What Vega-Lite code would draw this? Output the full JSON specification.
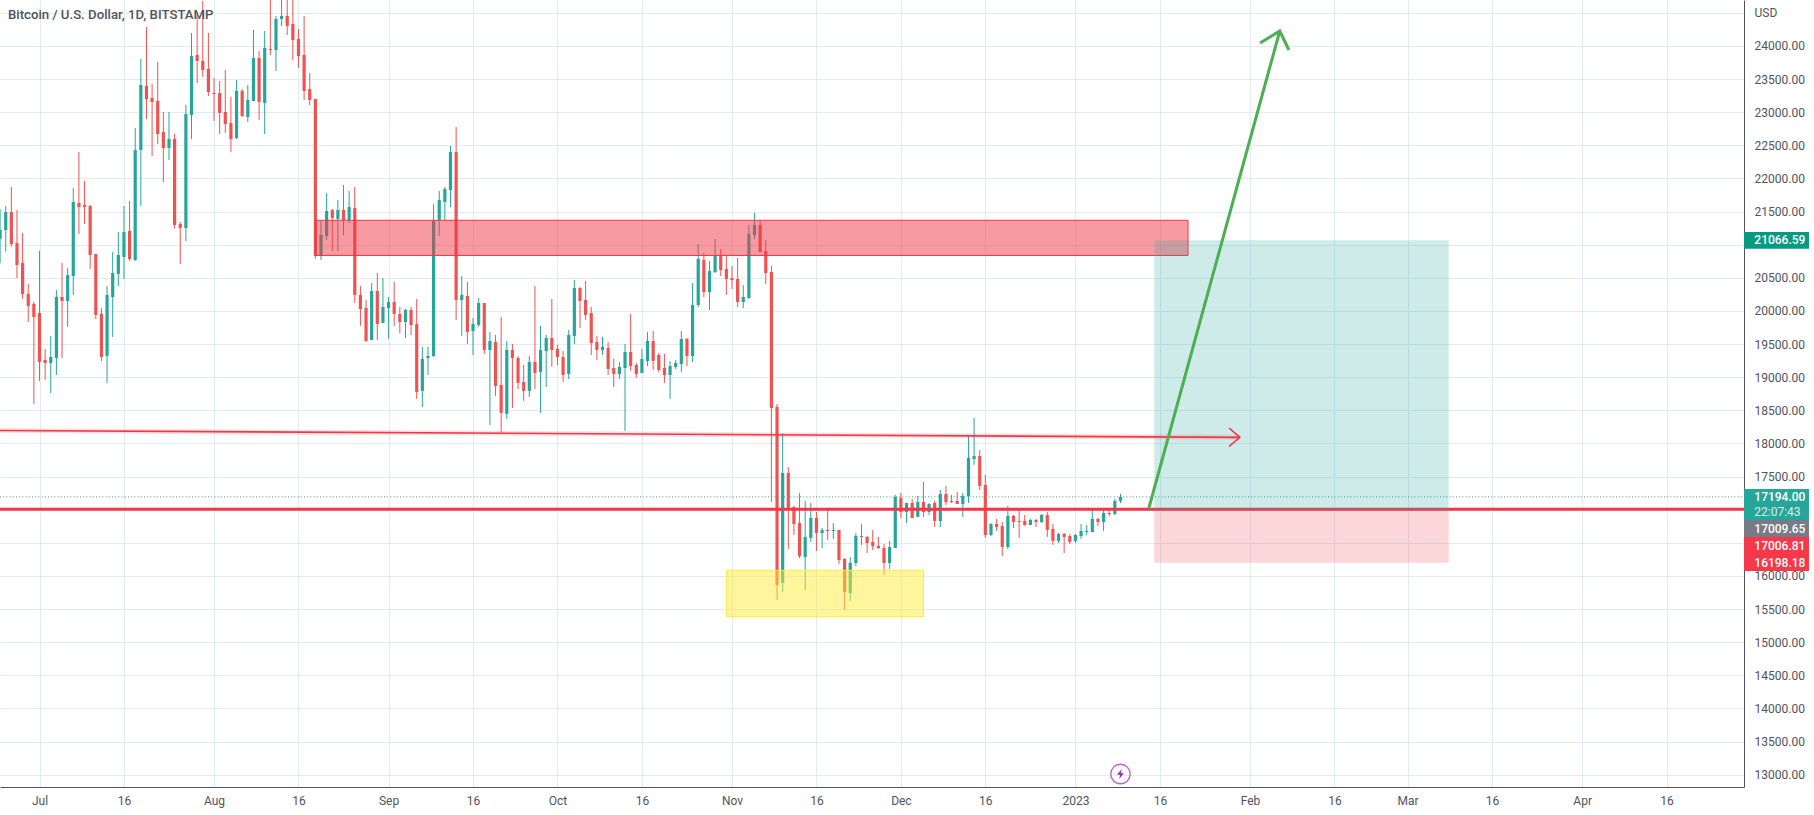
{
  "$schema": "https://vega.github.io/schema/vega-lite/v6.json",
  "width": 1744,
  "height": 787,
  "autosize": {"type": "none"},
  "padding": {"left": 0, "top": 0, "right": 70, "bottom": 28},
  "background": "#FFFFFF",
  "config": {"font": "Roboto", "view": {"stroke": null}},
  "title": {
    "text": "Bitcoin / U.S. Dollar, 1D, BITSTAMP",
    "anchor": "start",
    "frame": "group",
    "dx": 8,
    "offset": -40,
    "fontSize": 13.2,
    "fontWeight": 500,
    "color": "#50535E"
  },
  "datasets": {
    "candles": [
      {"d":"2022-06-24","o":21092,"h":21535,"l":20720,"c":21223},
      {"d":"2022-06-25","o":21223,"h":21585,"l":20896,"c":21494},
      {"d":"2022-06-26","o":21494,"h":21872,"l":20971,"c":21011},
      {"d":"2022-06-27","o":21026,"h":21524,"l":20498,"c":20694},
      {"d":"2022-06-28","o":20725,"h":21177,"l":20181,"c":20257},
      {"d":"2022-06-29","o":20257,"h":20408,"l":19834,"c":20076},
      {"d":"2022-06-30","o":20106,"h":20136,"l":18596,"c":19910},
      {"d":"2022-07-01","o":19970,"h":20906,"l":18944,"c":19230},
      {"d":"2022-07-02","o":19261,"h":19427,"l":18959,"c":19215},
      {"d":"2022-07-03","o":19215,"h":19623,"l":18762,"c":19306},
      {"d":"2022-07-04","o":19291,"h":20317,"l":19034,"c":20211},
      {"d":"2022-07-05","o":20211,"h":20725,"l":19291,"c":20151},
      {"d":"2022-07-06","o":20151,"h":20649,"l":19759,"c":20543},
      {"d":"2022-07-07","o":20528,"h":21857,"l":20242,"c":21645},
      {"d":"2022-07-08","o":21630,"h":22400,"l":21162,"c":21570},
      {"d":"2022-07-09","o":21600,"h":21962,"l":21313,"c":21570},
      {"d":"2022-07-10","o":21585,"h":21600,"l":20634,"c":20845},
      {"d":"2022-07-11","o":20860,"h":20860,"l":19879,"c":19940},
      {"d":"2022-07-12","o":19955,"h":20045,"l":19245,"c":19306},
      {"d":"2022-07-13","o":19321,"h":20377,"l":18913,"c":20242},
      {"d":"2022-07-14","o":20211,"h":20891,"l":19608,"c":20574},
      {"d":"2022-07-15","o":20559,"h":21192,"l":20377,"c":20845},
      {"d":"2022-07-16","o":20815,"h":21585,"l":20483,"c":21192},
      {"d":"2022-07-17","o":21207,"h":21660,"l":20755,"c":20785},
      {"d":"2022-07-18","o":20770,"h":22762,"l":20755,"c":22430},
      {"d":"2022-07-19","o":22430,"h":23804,"l":21585,"c":23411},
      {"d":"2022-07-20","o":23396,"h":24286,"l":22898,"c":23200},
      {"d":"2022-07-21","o":23215,"h":23426,"l":22339,"c":23155},
      {"d":"2022-07-22","o":23170,"h":23758,"l":22521,"c":22672},
      {"d":"2022-07-23","o":22702,"h":23004,"l":21947,"c":22460},
      {"d":"2022-07-24","o":22460,"h":23004,"l":22279,"c":22596},
      {"d":"2022-07-25","o":22596,"h":22672,"l":21243,"c":21298},
      {"d":"2022-07-26","o":21313,"h":21343,"l":20709,"c":21253},
      {"d":"2022-07-27","o":21253,"h":23109,"l":21057,"c":22973},
      {"d":"2022-07-28","o":22958,"h":24196,"l":22596,"c":23849},
      {"d":"2022-07-29","o":23864,"h":24468,"l":23441,"c":23773},
      {"d":"2022-07-30","o":23773,"h":24679,"l":23532,"c":23637},
      {"d":"2022-07-31","o":23653,"h":24196,"l":23245,"c":23305},
      {"d":"2022-08-01","o":23290,"h":23517,"l":22868,"c":23275},
      {"d":"2022-08-02","o":23290,"h":23471,"l":22672,"c":22988},
      {"d":"2022-08-03","o":23004,"h":23637,"l":22687,"c":22822},
      {"d":"2022-08-04","o":22838,"h":23230,"l":22400,"c":22596},
      {"d":"2022-08-05","o":22611,"h":23487,"l":22596,"c":23321},
      {"d":"2022-08-06","o":23321,"h":23351,"l":22928,"c":22943},
      {"d":"2022-08-07","o":22928,"h":23411,"l":22853,"c":23185},
      {"d":"2022-08-08","o":23170,"h":24241,"l":23170,"c":23819},
      {"d":"2022-08-09","o":23819,"h":23924,"l":22883,"c":23155},
      {"d":"2022-08-10","o":23139,"h":24226,"l":22672,"c":23970},
      {"d":"2022-08-11","o":23954,"h":24900,"l":23864,"c":23939},
      {"d":"2022-08-12","o":23939,"h":24453,"l":23622,"c":24407},
      {"d":"2022-08-13","o":24407,"h":24900,"l":24302,"c":24453},
      {"d":"2022-08-14","o":24453,"h":24950,"l":24166,"c":24302},
      {"d":"2022-08-15","o":24332,"h":24900,"l":23788,"c":24090},
      {"d":"2022-08-16","o":24105,"h":24256,"l":23668,"c":23849},
      {"d":"2022-08-17","o":23864,"h":24453,"l":23185,"c":23321},
      {"d":"2022-08-18","o":23351,"h":23592,"l":23109,"c":23185},
      {"d":"2022-08-19","o":23200,"h":23200,"l":20785,"c":20830},
      {"d":"2022-08-20","o":20830,"h":21358,"l":20770,"c":21147},
      {"d":"2022-08-21","o":21132,"h":21781,"l":21072,"c":21509},
      {"d":"2022-08-22","o":21524,"h":21540,"l":20906,"c":21404},
      {"d":"2022-08-23","o":21389,"h":21675,"l":20906,"c":21524},
      {"d":"2022-08-24","o":21525,"h":21902,"l":21147,"c":21374},
      {"d":"2022-08-25","o":21374,"h":21811,"l":21328,"c":21570},
      {"d":"2022-08-26","o":21555,"h":21872,"l":20121,"c":20242},
      {"d":"2022-08-27","o":20242,"h":20378,"l":19774,"c":20030},
      {"d":"2022-08-28","o":20046,"h":20166,"l":19532,"c":19547},
      {"d":"2022-08-29","o":19563,"h":20423,"l":19563,"c":20302},
      {"d":"2022-08-30","o":20302,"h":20574,"l":19563,"c":19804},
      {"d":"2022-08-31","o":19819,"h":20498,"l":19819,"c":20061},
      {"d":"2022-09-01","o":20046,"h":20212,"l":19578,"c":20136},
      {"d":"2022-09-02","o":20136,"h":20438,"l":19774,"c":19955},
      {"d":"2022-09-03","o":19955,"h":20061,"l":19668,"c":19834},
      {"d":"2022-09-04","o":19834,"h":20030,"l":19593,"c":20015},
      {"d":"2022-09-05","o":20015,"h":20061,"l":19638,"c":19789},
      {"d":"2022-09-06","o":19804,"h":20181,"l":18672,"c":18778},
      {"d":"2022-09-07","o":18793,"h":19457,"l":18551,"c":19276},
      {"d":"2022-09-08","o":19291,"h":19457,"l":19034,"c":19321},
      {"d":"2022-09-09","o":19321,"h":21615,"l":19306,"c":21359},
      {"d":"2022-09-10","o":21374,"h":21811,"l":21132,"c":21676},
      {"d":"2022-09-11","o":21645,"h":21872,"l":21374,"c":21842},
      {"d":"2022-09-12","o":21826,"h":22491,"l":21570,"c":22400},
      {"d":"2022-09-13","o":22400,"h":22777,"l":19864,"c":20166},
      {"d":"2022-09-14","o":20166,"h":20528,"l":19623,"c":20242},
      {"d":"2022-09-15","o":20227,"h":20438,"l":19502,"c":19683},
      {"d":"2022-09-16","o":19698,"h":19895,"l":19336,"c":19804},
      {"d":"2022-09-17","o":19789,"h":20196,"l":19759,"c":20121},
      {"d":"2022-09-18","o":20121,"h":20121,"l":19351,"c":19412},
      {"d":"2022-09-19","o":19412,"h":19683,"l":18280,"c":19547},
      {"d":"2022-09-20","o":19532,"h":19638,"l":18717,"c":18868},
      {"d":"2022-09-21","o":18883,"h":19910,"l":18169,"c":18461},
      {"d":"2022-09-22","o":18446,"h":19547,"l":18370,"c":19412},
      {"d":"2022-09-23","o":19412,"h":19502,"l":18536,"c":19291},
      {"d":"2022-09-24","o":19291,"h":19321,"l":18823,"c":18914},
      {"d":"2022-09-25","o":18929,"h":19185,"l":18642,"c":18793},
      {"d":"2022-09-26","o":18793,"h":19321,"l":18702,"c":19231},
      {"d":"2022-09-27","o":19231,"h":20378,"l":18823,"c":19064},
      {"d":"2022-09-28","o":19080,"h":19774,"l":18461,"c":19412},
      {"d":"2022-09-29","o":19396,"h":19638,"l":18853,"c":19593},
      {"d":"2022-09-30","o":19593,"h":20181,"l":19155,"c":19412},
      {"d":"2022-10-01","o":19427,"h":19487,"l":19185,"c":19306},
      {"d":"2022-10-02","o":19306,"h":19396,"l":18929,"c":19034},
      {"d":"2022-10-03","o":19049,"h":19713,"l":18974,"c":19638},
      {"d":"2022-10-04","o":19623,"h":20468,"l":19502,"c":20347},
      {"d":"2022-10-05","o":20347,"h":20362,"l":19744,"c":20151},
      {"d":"2022-10-06","o":20166,"h":20453,"l":19864,"c":19940},
      {"d":"2022-10-07","o":19970,"h":20061,"l":19336,"c":19517},
      {"d":"2022-10-08","o":19532,"h":19623,"l":19261,"c":19412},
      {"d":"2022-10-09","o":19412,"h":19608,"l":19336,"c":19457},
      {"d":"2022-10-10","o":19442,"h":19532,"l":19034,"c":19125},
      {"d":"2022-10-11","o":19140,"h":19276,"l":18853,"c":19049},
      {"d":"2022-10-12","o":19049,"h":19231,"l":18974,"c":19155},
      {"d":"2022-10-13","o":19140,"h":19502,"l":18189,"c":19381},
      {"d":"2022-10-14","o":19381,"h":19955,"l":19095,"c":19170},
      {"d":"2022-10-15","o":19185,"h":19215,"l":18989,"c":19049},
      {"d":"2022-10-16","o":19064,"h":19427,"l":19064,"c":19276},
      {"d":"2022-10-17","o":19246,"h":19683,"l":19170,"c":19547},
      {"d":"2022-10-18","o":19547,"h":19698,"l":19110,"c":19246},
      {"d":"2022-10-19","o":19336,"h":19366,"l":19080,"c":19110},
      {"d":"2022-10-20","o":19140,"h":19351,"l":18914,"c":19034},
      {"d":"2022-10-21","o":19034,"h":19246,"l":18672,"c":19170},
      {"d":"2022-10-22","o":19155,"h":19261,"l":19125,"c":19215},
      {"d":"2022-10-23","o":19200,"h":19698,"l":19079,"c":19577},
      {"d":"2022-10-24","o":19577,"h":19592,"l":19170,"c":19320},
      {"d":"2022-10-25","o":19320,"h":20422,"l":19230,"c":20090},
      {"d":"2022-10-26","o":20090,"h":21011,"l":20060,"c":20785},
      {"d":"2022-10-27","o":20769,"h":20875,"l":20211,"c":20286},
      {"d":"2022-10-28","o":20286,"h":20754,"l":20015,"c":20603},
      {"d":"2022-10-29","o":20588,"h":21086,"l":20573,"c":20830},
      {"d":"2022-10-30","o":20830,"h":20935,"l":20528,"c":20618},
      {"d":"2022-10-31","o":20634,"h":20830,"l":20241,"c":20483},
      {"d":"2022-11-01","o":20498,"h":20679,"l":20332,"c":20468},
      {"d":"2022-11-02","o":20483,"h":20800,"l":20060,"c":20136},
      {"d":"2022-11-03","o":20136,"h":20392,"l":20045,"c":20211},
      {"d":"2022-11-04","o":20196,"h":21298,"l":20181,"c":21162},
      {"d":"2022-11-05","o":21147,"h":21479,"l":21086,"c":21298},
      {"d":"2022-11-06","o":21298,"h":21358,"l":20890,"c":20890},
      {"d":"2022-11-07","o":20905,"h":21071,"l":20407,"c":20573},
      {"d":"2022-11-08","o":20588,"h":20679,"l":17117,"c":18536},
      {"d":"2022-11-09","o":18551,"h":18596,"l":15638,"c":15864},
      {"d":"2022-11-10","o":15894,"h":18158,"l":15758,"c":17555},
      {"d":"2022-11-11","o":17555,"h":17645,"l":16408,"c":16996},
      {"d":"2022-11-12","o":17040,"h":17057,"l":16619,"c":16785},
      {"d":"2022-11-13","o":16800,"h":17253,"l":16272,"c":16302},
      {"d":"2022-11-14","o":16287,"h":17132,"l":15789,"c":16589},
      {"d":"2022-11-15","o":16574,"h":17102,"l":16513,"c":16876},
      {"d":"2022-11-16","o":16876,"h":16966,"l":16378,"c":16649},
      {"d":"2022-11-17","o":16649,"h":16725,"l":16423,"c":16695},
      {"d":"2022-11-18","o":16695,"h":16996,"l":16544,"c":16679},
      {"d":"2022-11-19","o":16679,"h":16800,"l":16559,"c":16695},
      {"d":"2022-11-20","o":16695,"h":16695,"l":16181,"c":16242},
      {"d":"2022-11-21","o":16257,"h":16272,"l":15487,"c":15759},
      {"d":"2022-11-22","o":15744,"h":16287,"l":15623,"c":16196},
      {"d":"2022-11-23","o":16196,"h":16649,"l":16151,"c":16604},
      {"d":"2022-11-24","o":16604,"h":16785,"l":16468,"c":16589},
      {"d":"2022-11-25","o":16589,"h":16604,"l":16347,"c":16498},
      {"d":"2022-11-26","o":16513,"h":16695,"l":16393,"c":16453},
      {"d":"2022-11-27","o":16453,"h":16589,"l":16408,"c":16423},
      {"d":"2022-11-28","o":16423,"h":16483,"l":16015,"c":16196},
      {"d":"2022-11-29","o":16196,"h":16529,"l":16106,"c":16438},
      {"d":"2022-11-30","o":16423,"h":17223,"l":16423,"c":17193},
      {"d":"2022-12-01","o":17178,"h":17253,"l":16876,"c":16966},
      {"d":"2022-12-02","o":16966,"h":17102,"l":16800,"c":17102},
      {"d":"2022-12-03","o":17102,"h":17162,"l":16876,"c":16876},
      {"d":"2022-12-04","o":16891,"h":17208,"l":16891,"c":17117},
      {"d":"2022-12-05","o":17117,"h":17419,"l":16891,"c":16966},
      {"d":"2022-12-06","o":16966,"h":17102,"l":16921,"c":17087},
      {"d":"2022-12-07","o":17102,"h":17132,"l":16740,"c":16830},
      {"d":"2022-12-08","o":16830,"h":17298,"l":16740,"c":17238},
      {"d":"2022-12-09","o":17238,"h":17359,"l":17072,"c":17117},
      {"d":"2022-12-10","o":17132,"h":17223,"l":17102,"c":17117},
      {"d":"2022-12-11","o":17132,"h":17268,"l":17087,"c":17087},
      {"d":"2022-12-12","o":17087,"h":17253,"l":16891,"c":17208},
      {"d":"2022-12-13","o":17208,"h":18113,"l":17102,"c":17781},
      {"d":"2022-12-14","o":17766,"h":18385,"l":17676,"c":17811},
      {"d":"2022-12-15","o":17811,"h":17902,"l":17298,"c":17359},
      {"d":"2022-12-16","o":17374,"h":17525,"l":16574,"c":16619},
      {"d":"2022-12-17","o":16619,"h":16800,"l":16604,"c":16785},
      {"d":"2022-12-18","o":16785,"h":16861,"l":16679,"c":16740},
      {"d":"2022-12-19","o":16755,"h":16815,"l":16302,"c":16438},
      {"d":"2022-12-20","o":16438,"h":17057,"l":16408,"c":16906},
      {"d":"2022-12-21","o":16906,"h":16921,"l":16725,"c":16815},
      {"d":"2022-12-22","o":16830,"h":16996,"l":16574,"c":16815},
      {"d":"2022-12-23","o":16830,"h":16921,"l":16755,"c":16770},
      {"d":"2022-12-24","o":16770,"h":16861,"l":16770,"c":16845},
      {"d":"2022-12-25","o":16845,"h":16861,"l":16740,"c":16815},
      {"d":"2022-12-26","o":16815,"h":16936,"l":16800,"c":16921},
      {"d":"2022-12-27","o":16921,"h":16966,"l":16589,"c":16695},
      {"d":"2022-12-28","o":16710,"h":16785,"l":16468,"c":16529},
      {"d":"2022-12-29","o":16529,"h":16649,"l":16498,"c":16634},
      {"d":"2022-12-30","o":16634,"h":16649,"l":16347,"c":16589},
      {"d":"2022-12-31","o":16604,"h":16634,"l":16483,"c":16513},
      {"d":"2023-01-01","o":16529,"h":16634,"l":16498,"c":16619},
      {"d":"2023-01-02","o":16604,"h":16785,"l":16559,"c":16679},
      {"d":"2023-01-03","o":16664,"h":16770,"l":16619,"c":16679},
      {"d":"2023-01-04","o":16664,"h":16996,"l":16664,"c":16861},
      {"d":"2023-01-05","o":16861,"h":16876,"l":16755,"c":16815},
      {"d":"2023-01-06","o":16815,"h":16996,"l":16679,"c":16951},
      {"d":"2023-01-07","o":16951,"h":16996,"l":16906,"c":16936},
      {"d":"2023-01-08","o":16936,"h":17162,"l":16921,"c":17132},
      {"d":"2023-01-09","o":17132,"h":17240,"l":17100,"c":17194}
    ]
  },
  "encoding": {
    "x": {
      "field": "d",
      "type": "temporal",
      "title": null,
      "scale": {"type": "utc", "padding": 0, "domain": ["2022-06-23T23:37:00Z", "2023-04-29T18:00:00Z"]},
      "axis": {
        "orient": "bottom",
        "values": ["2022-07-01","2022-07-16","2022-08-01","2022-08-16","2022-09-01","2022-09-16","2022-10-01","2022-10-16","2022-11-01","2022-11-16","2022-12-01","2022-12-16","2023-01-01","2023-01-16","2023-02-01","2023-02-16","2023-03-01","2023-03-16","2023-04-01","2023-04-16"],
        "labelExpr": "utcFormat(datum.value,'%d')=='01' ? (utcFormat(datum.value,'%m')=='01' ? utcFormat(datum.value,'%Y') : utcFormat(datum.value,'%b')) : utcFormat(datum.value,'%d')",
        "grid": true,
        "gridColor": "#E1EBF2",
        "gridWidth": 1,
        "ticks": false,
        "domainColor": "#50535E",
        "labelColor": "#50535E",
        "labelFontSize": 12,
        "labelPadding": 8,
        "labelOverlap": false,
        "labelFlush": false
      }
    },
    "y": {
      "field": "p",
      "type": "quantitative",
      "title": null,
      "scale": {"domain": [12815, 24694], "nice": false, "zero": false},
      "axis": {
        "orient": "right",
        "values": [13000,13500,14000,14500,15000,15500,16000,16500,17000,17500,18000,18500,19000,19500,20000,20500,21000,21500,22000,22500,23000,23500,24000,24500],
        "labelExpr": "datum.value==24500 ? 'USD' : (datum.value==21000 || datum.value==17000 || datum.value==16500) ? '' : format(datum.value,'.2f')",
        "grid": true,
        "gridColor": "#E1EBF2",
        "gridWidth": 1,
        "ticks": false,
        "domainColor": "#50535E",
        "labelColor": "#50535E",
        "labelFontSize": 12,
        "labelPadding": 10,
        "labelAlign": "left",
        "labelOverlap": false,
        "labelFlush": false
      }
    }
  },
  "layer": [
    {
      "data": {"values": [{"d":"2022-06-23T23:37:00Z","p":17194},{"d":"2023-04-29T18:00:00Z","p":17194}]},
      "mark": {"type": "line", "color": "#26A69A", "strokeWidth": 1, "strokeDash": [1, 2.2]}
    },
    {
      "data": {"name": "candles"},
      "mark": {"type": "rule", "strokeWidth": 1},
      "encoding": {
        "y": {"field": "l", "type": "quantitative", "title": null},
        "y2": {"field": "h"},
        "color": {"condition": {"test": "datum.c>=datum.o", "value": "#26A69A"}, "value": "#EF5350"}
      }
    },
    {
      "data": {"name": "candles"},
      "mark": {"type": "bar", "size": 3.2},
      "encoding": {
        "y": {"field": "o", "type": "quantitative", "title": null},
        "y2": {"field": "c"},
        "color": {"condition": {"test": "datum.c>=datum.o", "value": "#26A69A"}, "value": "#EF5350"}
      }
    },
    {
      "data": {"values": [{"d":"2022-08-19","d2":"2023-01-21","p":21369,"p2":20838}]},
      "mark": {"type": "rect", "fill": "#F23645", "fillOpacity": 0.5, "stroke": "#F23645", "strokeWidth": 1},
      "encoding": {"x2": {"field": "d2"}, "y2": {"field": "p2"}}
    },
    {
      "data": {"values": [{"d":"2022-10-31","d2":"2022-12-05","p":16086,"p2":15385}]},
      "mark": {"type": "rect", "fill": "#FFEB3B", "fillOpacity": 0.5, "stroke": "#FFEB3B", "strokeWidth": 1},
      "encoding": {"x2": {"field": "d2"}, "y2": {"field": "p2"}}
    },
    {
      "data": {"values": [{"d":"2022-06-23T23:37:00Z","p":17006.81},{"d":"2023-04-29T18:00:00Z","p":17006.81}]},
      "mark": {"type": "line", "color": "#F7344A", "strokeWidth": 3}
    },
    {
      "data": {"values": [{"d":"2023-01-15","d2":"2023-03-08T07:00:00Z","p":21066.59,"p2":17009.65}]},
      "mark": {"type": "rect", "fill": "#26A69A", "fillOpacity": 0.22},
      "encoding": {"x2": {"field": "d2"}, "y2": {"field": "p2"}}
    },
    {
      "data": {"values": [{"d":"2023-01-15","d2":"2023-03-08T07:00:00Z","p":17009.65,"p2":16198.18}]},
      "mark": {"type": "rect", "fill": "#F23645", "fillOpacity": 0.2},
      "encoding": {"x2": {"field": "d2"}, "y2": {"field": "p2"}}
    },
    {
      "data": {"values": [{"d":"2023-01-15","p":17009.65},{"d":"2023-03-08T07:00:00Z","p":17009.65}]},
      "mark": {"type": "line", "color": "#787B86", "strokeWidth": 1, "opacity": 0.7}
    },
    {
      "data": {"values": [{"d":"2022-06-23T23:37:00Z","p":18196},{"d":"2023-01-30T05:00:00Z","p":18093}]},
      "mark": {"type": "line", "color": "#F23645", "strokeWidth": 5, "opacity": 0.15}
    },
    {
      "data": {"values": [
        {"g":"shaft","i":0,"d":"2022-06-23T23:37:00Z","p":18196},
        {"g":"shaft","i":1,"d":"2023-01-30T05:00:00Z","p":18093},
        {"g":"head","i":0,"d":"2023-01-28T07:00:00Z","p":18234},
        {"g":"head","i":1,"d":"2023-01-30T05:00:00Z","p":18093},
        {"g":"head","i":2,"d":"2023-01-28T07:00:00Z","p":17955}
      ]},
      "mark": {"type": "line", "color": "#F23645", "strokeWidth": 1.6},
      "encoding": {"detail": {"field": "g"}, "order": {"field": "i"}}
    },
    {
      "data": {"values": [
        {"g":"shaft","i":0,"d":"2023-01-14","p":17011},
        {"g":"shaft","i":1,"d":"2023-02-06T07:00:00Z","p":24226},
        {"g":"head","i":0,"d":"2023-02-02T19:00:00Z","p":24045},
        {"g":"head","i":1,"d":"2023-02-06T07:00:00Z","p":24226},
        {"g":"head","i":2,"d":"2023-02-07T22:00:00Z","p":23939}
      ]},
      "mark": {"type": "line", "color": "#4CAF50", "strokeWidth": 3, "strokeJoin": "miter"},
      "encoding": {"detail": {"field": "g"}, "order": {"field": "i"}}
    },
    {
      "data": {"values": [
        {"k":"target","d":"2023-04-29T18:00:00Z","d2":"2023-05-11T07:00:00Z","p":21192,"p2":20940},
        {"k":"last","d":"2023-04-29T18:00:00Z","d2":"2023-05-11T07:00:00Z","p":17313,"p2":16845},
        {"k":"entry","d":"2023-04-29T18:00:00Z","d2":"2023-05-11T07:00:00Z","p":16845,"p2":16588},
        {"k":"line","d":"2023-04-29T18:00:00Z","d2":"2023-05-11T07:00:00Z","p":16588,"p2":16332},
        {"k":"stop","d":"2023-04-29T18:00:00Z","d2":"2023-05-11T07:00:00Z","p":16332,"p2":16075}
      ]},
      "mark": {"type": "rect"},
      "encoding": {
        "x2": {"field": "d2"},
        "y2": {"field": "p2"},
        "color": {
          "field": "k",
          "type": "nominal",
          "legend": null,
          "scale": {"domain": ["target","last","entry","line","stop"], "range": ["#089981","#26A69A","#787B86","#F7374A","#F7374A"]}
        }
      }
    },
    {
      "data": {"values": [
        {"d":"2023-05-01T14:00:00Z","p":21066.59,"t":"21066.59"},
        {"d":"2023-05-01T14:00:00Z","p":17194,"t":"17194.00"},
        {"d":"2023-05-01T14:00:00Z","p":16714,"t":"17009.65"},
        {"d":"2023-05-01T14:00:00Z","p":16457,"t":"17006.81"},
        {"d":"2023-05-01T14:00:00Z","p":16200,"t":"16198.18"}
      ]},
      "mark": {"type": "text", "align": "left", "baseline": "middle", "color": "#FFFFFF", "fontSize": 12, "fontWeight": 500},
      "encoding": {"text": {"field": "t"}}
    },
    {
      "data": {"values": [{"d":"2023-05-01T14:00:00Z","p":16971,"t":"22:07:43"}]},
      "mark": {"type": "text", "align": "left", "baseline": "middle", "color": "#FFFFFF", "opacity": 0.8, "fontSize": 12},
      "encoding": {"text": {"field": "t"}}
    },
    {
      "data": {"values": [{"d":"2023-01-09","p":13011}]},
      "mark": {"type": "point", "shape": "circle", "filled": false, "color": "#9C27B0", "strokeWidth": 1.4, "size": 380}
    },
    {
      "data": {"values": [{"d":"2023-01-09","p":13011}]},
      "mark": {"type": "point", "shape": "M0.25,-0.9 L-0.65,0.15 L-0.05,0.15 L-0.25,0.9 L0.65,-0.15 L0.05,-0.15 Z", "filled": true, "color": "#9C27B0", "opacity": 1, "size": 120}
    }
  ]
}
